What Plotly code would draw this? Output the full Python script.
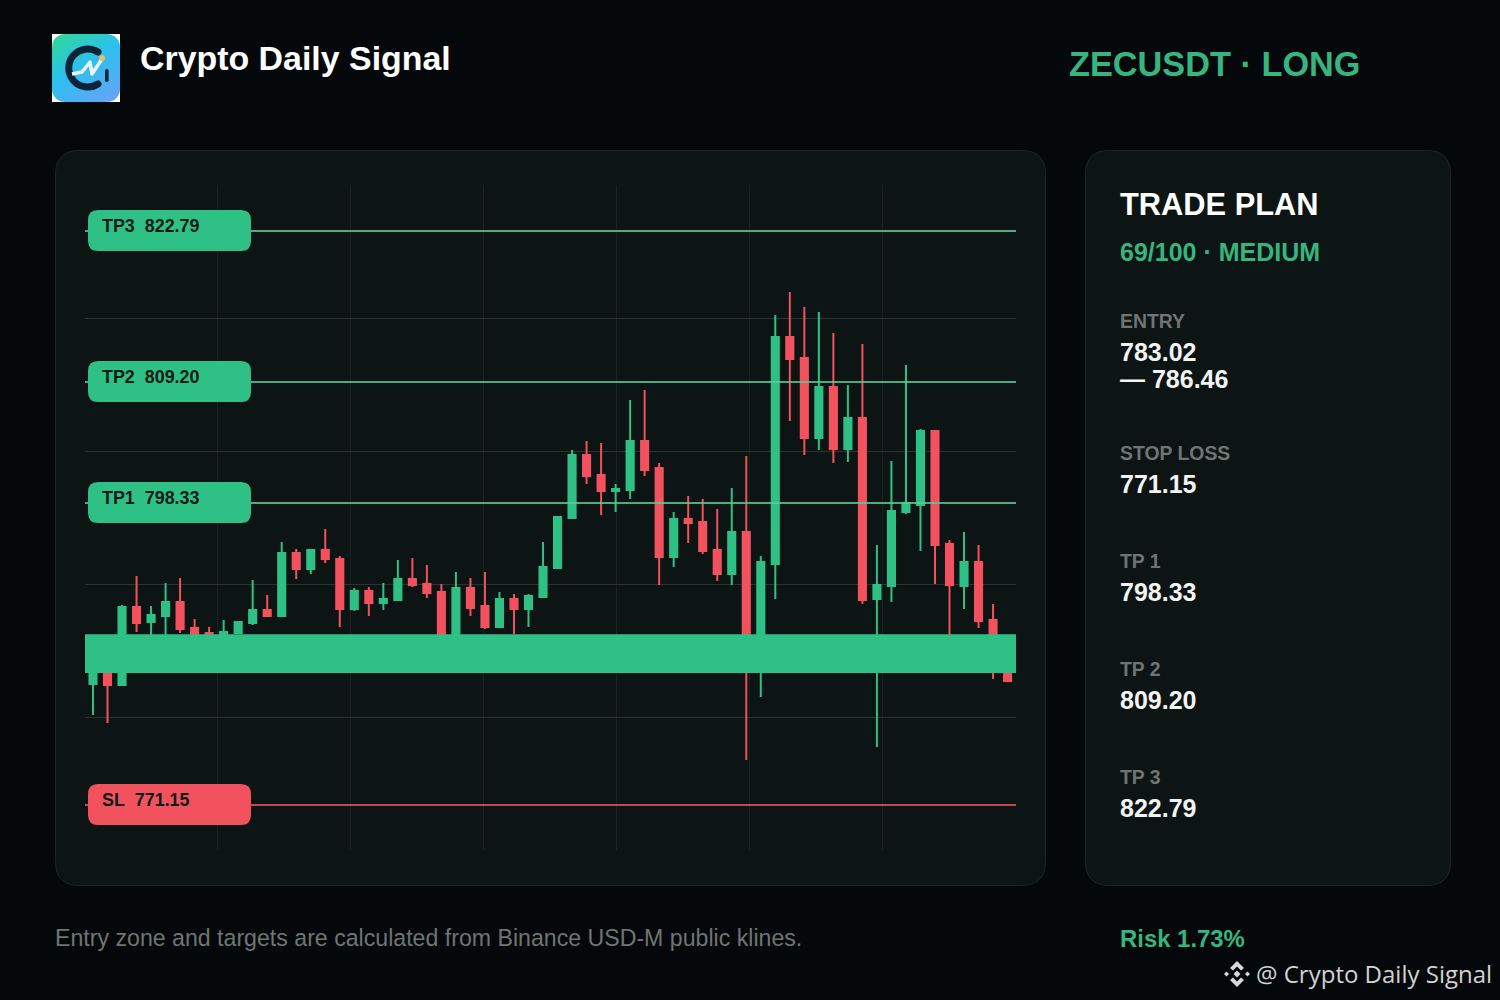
import base64

import plotly.graph_objects as go

# Candles (ZECUSDT, 64 bars)
OPENS = [782.04, 785.10, 781.95, 788.96, 787.61, 788.15, 789.41, 787.07, 786.63, 786.36, 786.63, 787.52, 788.69,
         788.15, 793.82, 792.38, 794.09, 793.28, 788.78, 790.40, 789.32, 789.59, 791.48, 791.03, 790.31, 786.00,
         790.67, 789.05, 787.16, 789.68, 788.78, 789.86, 792.47, 796.97, 802.64, 800.84, 799.40, 799.49, 803.90,
         801.47, 793.46, 796.88, 796.61, 794.09, 791.93, 795.71, 784.65, 792.83, 813.25, 811.36, 804.17, 808.76,
         803.18, 805.97, 789.68, 790.85, 797.51, 798.14, 804.80, 794.63, 790.85, 793.01, 787.79, 784.20]
HIGHS = [786.00, 785.55, 789.14, 791.75, 789.05, 791.12, 791.57, 787.88, 787.16, 787.79, 787.70, 791.39, 790.04,
         794.81, 794.18, 794.18, 795.98, 793.55, 790.67, 790.76, 791.12, 793.19, 793.37, 792.74, 791.03, 792.11,
         791.57, 792.11, 790.31, 790.13, 790.13, 794.81, 797.06, 803.09, 803.90, 803.72, 800.03, 807.59, 808.49,
         801.92, 797.51, 798.95, 798.68, 797.78, 799.67, 802.55, 793.55, 815.23, 817.30, 815.95, 815.50, 813.61,
         808.94, 812.62, 794.54, 802.10, 810.73, 804.98, 804.89, 794.99, 795.71, 794.54, 789.23, 785.10]
LOWS = [779.25, 778.53, 781.95, 786.72, 786.00, 786.00, 786.63, 786.00, 786.00, 786.00, 786.54, 787.34, 788.06,
        788.06, 791.48, 791.93, 792.92, 787.16, 788.60, 788.15, 788.69, 789.59, 790.76, 789.77, 785.55, 785.55,
        788.15, 786.98, 787.16, 786.54, 787.16, 789.86, 792.47, 796.97, 800.03, 797.24, 797.51, 798.68, 800.75,
        790.94, 792.56, 794.72, 793.73, 791.30, 790.94, 775.20, 780.87, 789.68, 805.70, 802.64, 803.09, 801.92,
        802.01, 789.23, 776.37, 789.41, 797.33, 794.00, 791.03, 786.00, 788.78, 787.07, 782.49, 782.22]
CLOSES = [785.10, 781.95, 788.96, 787.52, 788.24, 789.41, 786.98, 786.36, 786.36, 786.72, 787.61, 788.69, 788.15,
          793.82, 792.38, 794.09, 793.28, 788.78, 790.40, 789.32, 789.68, 791.48, 790.94, 790.22, 786.00, 790.67,
          788.87, 787.16, 789.68, 788.78, 789.95, 792.56, 797.06, 802.64, 800.75, 799.40, 799.58, 803.90, 801.29,
          793.46, 796.88, 796.52, 794.00, 791.93, 795.71, 784.65, 793.01, 813.25, 811.27, 804.17, 808.76, 803.18,
          805.97, 789.59, 790.94, 797.60, 798.32, 804.80, 794.54, 790.94, 793.01, 787.70, 784.20, 782.31]

LEVEL_NAMES = ['TP3', 'TP2', 'TP1', 'SL']
LEVEL_PRICES = [822.79, 809.20, 798.33, 771.15]
ENTRY_LOW = 783.02
ENTRY_HIGH = 786.46

PLAN_LABELS = ['ENTRY', 'STOP LOSS', 'TP 1', 'TP 2', 'TP 3']
PLAN_VALUES = ['783.02', '771.15', '798.33', '809.20', '822.79']
ENTRY_SECOND_LINE = '— 786.46'

Y_MIN = 767.10
Y_MAX = 826.93

BG = '#05080A'
CARD = '#0D1414'
CARD_EDGE = '#1C2625'
GREEN = '#2EC084'
RED = '#F2525E'
TEXT_GREEN = '#35B680'
GREY = '#6E7573'
FONT = 'Liberation Sans'

LOGO_SVG = """<svg xmlns="http://www.w3.org/2000/svg" viewBox="0 0 68 68">
<rect width="68" height="68" fill="#fff"/>
<defs><linearGradient id="g" x1="0.2" y1="0" x2="0.8" y2="1"><stop offset="0" stop-color="#2ED6A0"/>
<stop offset="0.45" stop-color="#2CC0EE"/><stop offset="1" stop-color="#62A6F7"/></linearGradient></defs>
<rect width="68" height="68" rx="13" fill="url(#g)"/>
<path d="M46 18 A19 19 0 1 0 46 50" fill="none" stroke="#0C2238" stroke-width="7" stroke-linecap="round"/>
<path d="M20 40 L30 38 L38 28 L40 40 L50 25" fill="none" stroke="#EAF6FB" stroke-width="3.5" stroke-linejoin="round"/>
<circle cx="50" cy="24" r="3" fill="#F4B860"/>
<rect x="53" y="35" width="3.6" height="13" rx="1.8" fill="#0C2238"/>
</svg>"""

DIAMOND_SVG = """<svg xmlns="http://www.w3.org/2000/svg" viewBox="0 0 28 28">
<g fill="#D8D8D8"><path d="M14 1 L21 8 L18 10.5 L14 6.5 L10 10.5 L7 8 Z"/>
<path d="M14 27 L21 20 L18 17.5 L14 21.5 L10 17.5 L7 20 Z"/>
<path d="M14 10.5 L17.5 14 L14 17.5 L10.5 14 Z"/><path d="M1 14 L3.5 11.5 L6 14 L3.5 16.5 Z"/>
<path d="M27 14 L24.5 11.5 L22 14 L24.5 16.5 Z"/></g></svg>"""


def svg_uri(svg):
    return 'data:image/svg+xml;base64,' + base64.b64encode(svg.encode()).decode()


def px(x):
    return x / 1500


def py(y):
    return 1 - y / 1000


def round_rect(x0, y0, x1, y1, r):
    """Rounded rectangle path, in page pixels, as a paper referenced svg path."""
    pts = [('M', x0 + r, y0), ('L', x1 - r, y0), ('Q', x1, y0, x1, y0 + r), ('L', x1, y1 - r),
           ('Q', x1, y1, x1 - r, y1), ('L', x0 + r, y1), ('Q', x0, y1, x0, y1 - r), ('L', x0, y0 + r),
           ('Q', x0, y0, x0 + r, y0)]
    out = []
    for p in pts:
        coords = []
        for i in range(1, len(p), 2):
            coords.append(f'{px(p[i]):.5f},{py(p[i + 1]):.5f}')
        out.append(p[0] + ' ' + ' '.join(coords))
    return ' '.join(out) + ' Z'


def rr_shape(x0, y0, x1, y1, r, fill, edge=None, layer='above'):
    return dict(type='path', xref='paper', yref='paper', path=round_rect(x0, y0, x1, y1, r), fillcolor=fill,
                line=dict(color=edge if edge else fill, width=1 if edge else 0), layer=layer)


def label(x, y, text, size, color, bold=False, family=FONT):
    fig.add_annotation(x=px(x), y=py(y), xref='paper', yref='paper', text=f'<b>{text}</b>' if bold else text,
                       showarrow=False, xanchor='left', yanchor='middle', align='left', borderpad=0, borderwidth=0,
                       font=dict(family=family, size=size, color=color))


fig = go.Figure()

xs = list(range(len(OPENS)))
fig.add_trace(go.Candlestick(x=xs, open=OPENS, high=HIGHS, low=LOWS, close=CLOSES, hoverinfo='skip',
                             increasing=dict(line=dict(color=GREEN, width=2), fillcolor=GREEN),
                             decreasing=dict(line=dict(color=RED, width=2), fillcolor=RED)))

# ends of the axis, slightly wider than the bars so the spacing matches
x_lo, x_hi = -0.55, 63.58
for name, price in zip(LEVEL_NAMES, LEVEL_PRICES):
    fig.add_trace(go.Scatter(x=[x_lo, x_hi], y=[price, price], mode='lines', hoverinfo='skip', opacity=0.82,
                             line=dict(color=RED if name == 'SL' else '#5CCB9A', width=2)))

shapes = [rr_shape(55.5, 150.5, 1045.5, 885.5, 24, CARD, CARD_EDGE, 'below'),
          rr_shape(1085.5, 150.5, 1450.5, 885.5, 24, CARD, CARD_EDGE, 'below'),
          dict(type='rect', xref='x', yref='y', x0=x_lo, x1=x_hi, y0=ENTRY_LOW, y1=ENTRY_HIGH + 0.06, fillcolor=GREEN,
               line=dict(width=0), layer='above')]

fig.update_layout(width=1500, height=1000, autosize=False, margin=dict(l=0, r=0, t=0, b=0), showlegend=False,
                  paper_bgcolor=BG, plot_bgcolor='rgba(0,0,0,0)', shapes=shapes,
                  images=[dict(source=svg_uri(LOGO_SVG), xref='paper', yref='paper', x=px(52), y=py(34), sizex=68 / 1500,
                               sizey=68 / 1000, xanchor='left', yanchor='top', sizing='stretch', layer='above'),
                          dict(source=svg_uri(DIAMOND_SVG), xref='paper', yref='paper', x=px(1223), y=py(960),
                               sizex=28 / 1500, sizey=28 / 1000, xanchor='left', yanchor='top', sizing='stretch',
                               layer='above')])
fig.update_xaxes(domain=[px(85), px(1016)], range=[x_lo, x_hi], rangeslider_visible=False, showticklabels=False,
                 zeroline=False, showline=False, ticks='', gridcolor='#1A2120', gridwidth=1,
                 tickvals=[x_lo + (x_hi - x_lo) * k / 7 - 0.05 for k in range(1, 7)])
fig.update_yaxes(domain=[py(850), py(185)], range=[Y_MIN, Y_MAX], showticklabels=False, zeroline=False,
                 showline=False, ticks='', gridcolor='#2B3230', gridwidth=1,
                 tickvals=[Y_MIN + (Y_MAX - Y_MIN) * k / 5 for k in range(1, 5)])

# level pills sit on top of the lines
pill_y = [231, 382, 503, 805]
for name, price, y in zip(LEVEL_NAMES, LEVEL_PRICES, pill_y):
    fig.add_shape(rr_shape(88, y - 21, 251, y + 20, 10, RED if name == 'SL' else GREEN))
    label(102, y - 5, f'{name}\u00a0\u00a0{price:.2f}', 17.9, '#0E1C17', bold=True)

label(140, 58, 'Crypto Daily Signal', 33.9, '#FFFFFF', bold=True)
label(1069, 63.5, 'ZECUSDT · LONG', 34.3, TEXT_GREEN, bold=True)

label(1120, 205, 'TRADE PLAN', 30.8, '#FFFFFF', bold=True)
label(1120, 252, '69/100 · MEDIUM', 25, TEXT_GREEN, bold=True)

label_y = [321, 453, 561, 669, 777]
value_y = [352, 484, 592, 700, 808]
for text, value, ly, vy in zip(PLAN_LABELS, PLAN_VALUES, label_y, value_y):
    label(1120, ly, text, 19.4, GREY, bold=True)
    label(1120, vy, value, 25, '#F2F4F3', bold=True)
label(1120, 379.5, ENTRY_SECOND_LINE, 25, '#F2F4F3', bold=True)

label(55, 938, 'Entry zone and targets are calculated from Binance USD-M public klines.', 23.15, GREY)
label(1120, 938.5, 'Risk 1.73%', 23.9, TEXT_GREEN, bold=True)
label(1256, 973, '@ Crypto Daily Signal', 24, '#D2D2D2', family='Open Sans')

fig.write_html('out.html', config={'displayModeBar': False},
               post_script="document.body.style.margin='0';document.body.style.background='#05080A';")
